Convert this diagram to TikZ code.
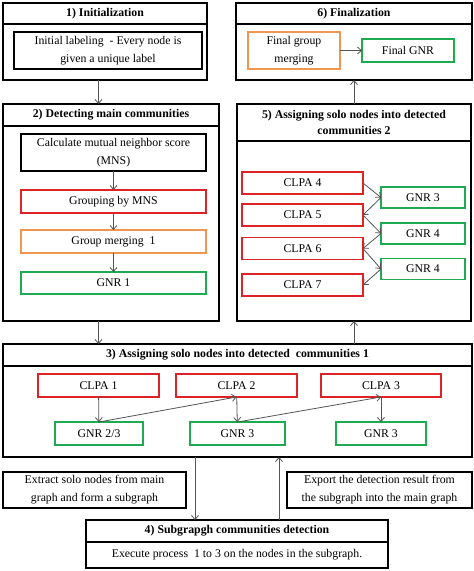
\documentclass[tikz,border=0pt]{standalone}
\usepackage{fontspec}
\setmainfont{Liberation Serif}
\usetikzlibrary{arrows.meta}

\definecolor{clpared}{RGB}{222,35,40}
\definecolor{mergeorange}{RGB}{240,150,80}
\definecolor{gnrgreen}{RGB}{30,170,80}
\definecolor{arrowgray}{RGB}{85,85,85}

\begin{document}
\begin{tikzpicture}[x=1pt,y=1pt,yscale=-1,xscale=1,
  every node/.style={font=\fontsize{11.8}{18}\selectfont, align=center, inner sep=0, outer sep=0},
  panel/.style={draw, line width=1.5, anchor=north west},
  ttl/.style={draw, line width=1.5, anchor=north west, font=\fontsize{11.8}{16}\selectfont\bfseries},
  plain/.style={draw, line width=1.5},
  redbox/.style={draw=clpared, line width=1.3},
  orangebox/.style={draw=mergeorange, line width=1.3},
  greenbox/.style={draw=gnrgreen, line width=1.3},
  flow/.style={draw=arrowgray, line width=0.8, -{Straight Barb[length=4pt,width=7pt]}}]
\useasboundingbox (0,0) rectangle (474,571);

% Panel 1
\node [panel, minimum width=204pt, minimum height=77pt] (init) at (3,3) {};
\node [ttl, minimum width=204pt, minimum height=21pt] (initT) at (3,3) {1) Initialization};
\node [plain, minimum width=188pt, minimum height=37pt] (label) at (108,50.5) {Initial labeling\ \ - Every node is\\given a unique label};

% Panel 6
\node [panel, minimum width=236pt, minimum height=77pt] (final) at (236,3) {};
\node [ttl, minimum width=236pt, minimum height=21pt] (finalT) at (236,3) {6) Finalization};
\node [orangebox, minimum width=92pt, minimum height=37pt] (fmerge) at (294,50.5) {Final group\\merging};
\node [greenbox, minimum width=92pt, minimum height=23pt] (fgnr) at (408,50.5) {Final GNR};

% Panel 2
\node [panel, minimum width=216pt, minimum height=217pt] (detect) at (3,104) {};
\node [ttl, minimum width=216pt, minimum height=22pt] (detectT) at (3,104) {2) Detecting main communities};
\node [plain, minimum width=185pt, minimum height=37pt] (calc) at (113.5,152.5) {Calculate mutual neighbor score\\(MNS)};
\node [redbox, minimum width=185pt, minimum height=23pt] (grpMNS) at (113.5,201.5) {Grouping by MNS};
\node [orangebox, minimum width=185pt, minimum height=23pt] (merge) at (113.5,241.5) {Group merging\ \ 1};
\node [greenbox, minimum width=185pt, minimum height=22pt] (gnrOne) at (113.5,283) {GNR 1};

% Panel 5
\node [panel, minimum width=234pt, minimum height=217pt] (asgB) at (237,104) {};
\node [ttl, minimum width=234pt, minimum height=37pt] (asgBT) at (237,104) {5) Assigning solo nodes into detected\\communities 2};
\node [redbox, minimum width=121pt, minimum height=22pt] (clpaD) at (302.5,183) {CLPA 4};
\node [redbox, minimum width=121pt, minimum height=22pt] (clpaE) at (302.5,215) {CLPA 5};
\node [redbox, minimum width=121pt, minimum height=22pt] (clpaF) at (302.5,248.5) {CLPA 6};
\node [redbox, minimum width=121pt, minimum height=22pt] (clpaG) at (302.5,285) {CLPA 7};
\node [greenbox, minimum width=84pt, minimum height=21pt] (gnrD) at (423,197.5) {GNR 3};
\node [greenbox, minimum width=84pt, minimum height=21pt] (gnrE) at (423,233.5) {GNR 4};
\node [greenbox, minimum width=84pt, minimum height=21pt] (gnrF) at (423,269) {GNR 4};

% Panel 3
\node [panel, minimum width=469pt, minimum height=113pt] (asgA) at (3,344) {};
\node [ttl, minimum width=469pt, minimum height=22pt] (asgAT) at (3,344) {3) Assigning solo nodes into detected\ \ communities 1};
\node [redbox, minimum width=121pt, minimum height=23pt] (clpaA) at (98.5,385.5) {CLPA 1};
\node [redbox, minimum width=121pt, minimum height=23pt] (clpaB) at (236.5,385.5) {CLPA 2};
\node [redbox, minimum width=120pt, minimum height=23pt] (clpaC) at (381,385.5) {CLPA 3};
\node [greenbox, minimum width=88pt, minimum height=23pt] (gnrA) at (99,433.5) {GNR 2/3};
\node [greenbox, minimum width=95pt, minimum height=23pt] (gnrB) at (237.5,433.5) {GNR 3};
\node [greenbox, minimum width=90pt, minimum height=23pt] (gnrC) at (381,433.5) {GNR 3};

% Side notes
\node [plain, minimum width=183pt, minimum height=36pt] (extract) at (94.5,490) {Extract solo nodes from main\\graph and form a subgraph};
\node [plain, minimum width=185pt, minimum height=36pt] (export) at (379.5,490) {Export the detection result from\\the subgraph into the main graph};

% Panel 4
\node [panel, minimum width=302pt, minimum height=48pt] (sub) at (86,520) {};
\node [ttl, minimum width=302pt, minimum height=22pt] (subT) at (86,520) {4) Subgrapgh communities detection};
\node (subX) at (237,555) {Execute process\ \ 1 to 3 on the nodes in the subgraph.};

% Connectors
\draw [flow] (init.south -| clpaA) -- (detect.north -| clpaA);
\draw [flow] (detect.south -| clpaA) -- (asgA.north -| clpaA);
\draw [flow] (asgA.north -| asgB) -- (asgB.south);
\draw [flow] (asgB.north) -- (final.south -| asgB);
\draw [flow] (fmerge) -- (fgnr);
\draw [flow] (calc) -- (grpMNS);
\draw [flow] (grpMNS) -- (merge);
\draw [flow] (merge) -- (gnrOne);
\draw [flow] (clpaA) -- (gnrA);
\draw [flow] (gnrA.north) -- (clpaB.south);
\draw [flow] (clpaB) -- (gnrB);
\draw [flow] (gnrB.north) -- (clpaC.south);
\draw [flow] (clpaC) -- (gnrC);
\draw [flow] (clpaD.east) -- (gnrD.west);
\draw [flow] (gnrD.west) -- (clpaE.east);
\draw [flow] (clpaE.east) -- (gnrE.west);
\draw [flow] (gnrE.west) -- (clpaF.east);
\draw [flow] (clpaF.east) -- (gnrF.west);
\draw [flow] (gnrF.west) -- (clpaG.east);
\draw [flow] ([xshift=9pt]asgA.south -| extract.east) -- ([xshift=9pt]sub.north -| extract.east);
\draw [flow] ([xshift=-8pt]sub.north -| export.west) -- ([xshift=-8pt]asgA.south -| export.west);
\end{tikzpicture}
\end{document}
